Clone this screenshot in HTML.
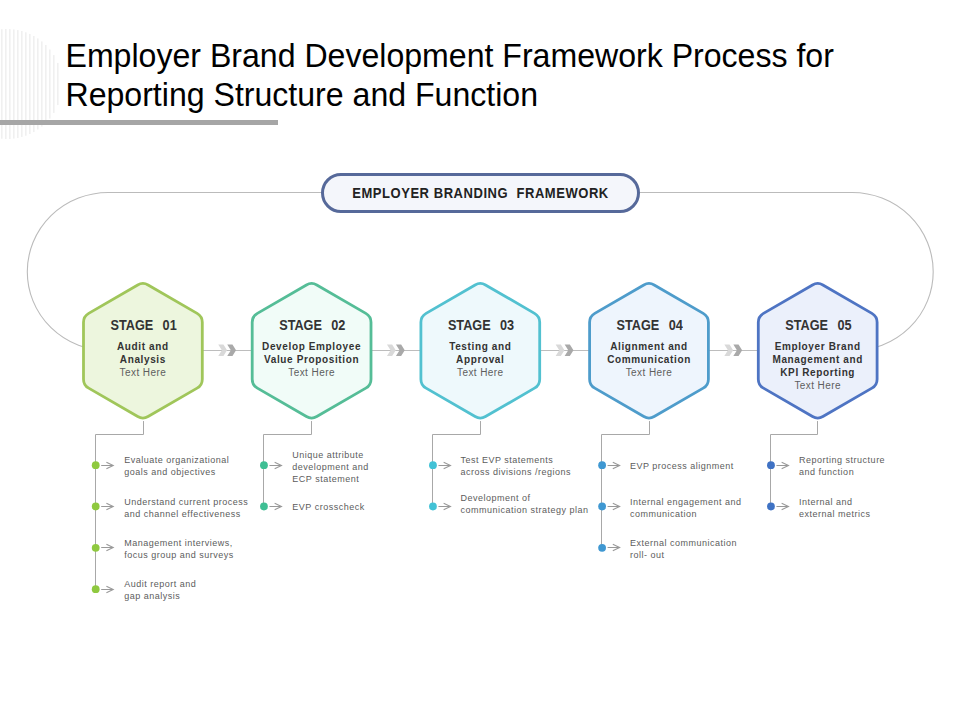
<!DOCTYPE html>
<html><head><meta charset="utf-8"><style>
html,body{margin:0;padding:0;background:#fff;}
body{width:960px;height:720px;position:relative;overflow:hidden;font-family:"Liberation Sans",sans-serif;}
svg{position:absolute;left:0;top:0;}
.title{position:absolute;left:65.5px;font-size:32.1px;line-height:39px;transform:scaleY(1.06);transform-origin:0 30px;color:#000;white-space:nowrap;}
.bar{position:absolute;left:0;top:120px;width:278px;height:4.5px;background:#a6a6a6;}
.pill{position:absolute;left:321px;top:173px;width:313px;height:34px;border:3px solid #56699a;border-radius:20px;background:#f4f6fb;box-sizing:content-box;}
.pillt{position:absolute;left:321px;top:185.6px;width:319px;text-align:center;font-size:13px;font-weight:bold;color:#222;white-space:pre;letter-spacing:0.55px;transform:scaleY(1.07);transform-origin:50% 12px;}
.st{position:absolute;width:120px;text-align:center;font-size:12.7px;font-weight:bold;color:#333;white-space:nowrap;line-height:15px;transform:scaleY(1.12);transform-origin:50% 11.5px;}
.sb{position:absolute;width:120px;text-align:center;font-size:10px;font-weight:bold;color:#333;line-height:13px;letter-spacing:0.63px;white-space:nowrap;}
.th{font-weight:normal;color:#5e5e5e;letter-spacing:0.42px;}
.bt{position:absolute;font-size:9px;line-height:12px;color:#5c5c5c;letter-spacing:0.5px;white-space:nowrap;}
</style></head><body>
<svg width="960" height="720" viewBox="0 0 960 720"><rect x="1" y="29.2" width="1.6" height="109.5" fill="#f0f0f0"/><rect x="5" y="29.0" width="1.6" height="110.0" fill="#f0f0f0"/><rect x="9" y="29.1" width="1.6" height="109.9" fill="#f0f0f0"/><rect x="13" y="29.4" width="1.6" height="109.2" fill="#f0f0f0"/><rect x="17" y="30.1" width="1.6" height="107.9" fill="#f0f0f0"/><rect x="21" y="31.0" width="1.6" height="105.9" fill="#f0f0f0"/><rect x="25" y="32.3" width="1.6" height="103.4" fill="#f0f0f0"/><rect x="29" y="33.9" width="1.6" height="100.1" fill="#f0f0f0"/><rect x="33" y="36.0" width="1.6" height="96.1" fill="#f0f0f0"/><rect x="37" y="38.4" width="1.6" height="91.1" fill="#f0f0f0"/><rect x="41" y="41.4" width="1.6" height="85.2" fill="#f0f0f0"/><rect x="45" y="45.0" width="1.6" height="78.0" fill="#f0f0f0"/><rect x="49" y="49.5" width="1.6" height="69.1" fill="#f0f0f0"/><rect x="53" y="55.1" width="1.6" height="57.8" fill="#f0f0f0"/><rect x="57" y="62.9" width="1.6" height="42.2" fill="#f0f0f0"/><path d="M108.3,350.9 A81,79.2 0 0 1 108.3,192.5 L852.2,192.5 A81,79.2 0 0 1 852.2,350.9" fill="none" stroke="#bbbbbb" stroke-width="1.1"/><line x1="142.9" y1="350.5" x2="817.7" y2="350.5" stroke="#bdbdbd" stroke-width="1"/><path d="M137.71,284.96 Q142.90,281.95 148.09,284.96 L197.11,313.34 Q202.30,316.35 202.30,322.35 L202.30,379.15 Q202.30,385.15 197.11,388.16 L148.09,416.54 Q142.90,419.55 137.71,416.54 L88.69,388.16 Q83.50,385.15 83.50,379.15 L83.50,322.35 Q83.50,316.35 88.69,313.34 Z" fill="#edf6de" stroke="#a0c65a" stroke-width="2.8"/><path d="M306.41,284.96 Q311.60,281.95 316.79,284.96 L365.81,313.34 Q371.00,316.35 371.00,322.35 L371.00,379.15 Q371.00,385.15 365.81,388.16 L316.79,416.54 Q311.60,419.55 306.41,416.54 L257.39,388.16 Q252.20,385.15 252.20,379.15 L252.20,322.35 Q252.20,316.35 257.39,313.34 Z" fill="#f1fcf8" stroke="#55bd97" stroke-width="2.8"/><path d="M475.11,284.96 Q480.30,281.95 485.49,284.96 L534.51,313.34 Q539.70,316.35 539.70,322.35 L539.70,379.15 Q539.70,385.15 534.51,388.16 L485.49,416.54 Q480.30,419.55 475.11,416.54 L426.09,388.16 Q420.90,385.15 420.90,379.15 L420.90,322.35 Q420.90,316.35 426.09,313.34 Z" fill="#eef9fc" stroke="#52c1d0" stroke-width="2.8"/><path d="M643.81,284.96 Q649.00,281.95 654.19,284.96 L703.21,313.34 Q708.40,316.35 708.40,322.35 L708.40,379.15 Q708.40,385.15 703.21,388.16 L654.19,416.54 Q649.00,419.55 643.81,416.54 L594.79,388.16 Q589.60,385.15 589.60,379.15 L589.60,322.35 Q589.60,316.35 594.79,313.34 Z" fill="#eef5fd" stroke="#4e9ccb" stroke-width="2.8"/><path d="M812.51,284.96 Q817.70,281.95 822.89,284.96 L871.91,313.34 Q877.10,316.35 877.10,322.35 L877.10,379.15 Q877.10,385.15 871.91,388.16 L822.89,416.54 Q817.70,419.55 812.51,416.54 L763.49,388.16 Q758.30,385.15 758.30,379.15 L758.30,322.35 Q758.30,316.35 763.49,313.34 Z" fill="#ebf0fb" stroke="#4e74c3" stroke-width="2.8"/><path d="M218.25,344.4 L223.45,344.4 L227.05,350.2 L223.45,356.0 L218.25,356.0 L221.85,350.2 Z" fill="#d9d9d9"/><path d="M227.25,344.4 L232.45,344.4 L236.05,350.2 L232.45,356.0 L227.25,356.0 L230.85,350.2 Z" fill="#a9a9a9"/><path d="M386.95000000000005,344.4 L392.15000000000003,344.4 L395.75000000000006,350.2 L392.15000000000003,356.0 L386.95000000000005,356.0 L390.55000000000007,350.2 Z" fill="#d9d9d9"/><path d="M395.95000000000005,344.4 L401.15000000000003,344.4 L404.75000000000006,350.2 L401.15000000000003,356.0 L395.95000000000005,356.0 L399.55000000000007,350.2 Z" fill="#a9a9a9"/><path d="M555.65,344.4 L560.85,344.4 L564.4499999999999,350.2 L560.85,356.0 L555.65,356.0 L559.25,350.2 Z" fill="#d9d9d9"/><path d="M564.65,344.4 L569.85,344.4 L573.4499999999999,350.2 L569.85,356.0 L564.65,356.0 L568.25,350.2 Z" fill="#a9a9a9"/><path d="M724.35,344.4 L729.5500000000001,344.4 L733.15,350.2 L729.5500000000001,356.0 L724.35,356.0 L727.95,350.2 Z" fill="#d9d9d9"/><path d="M733.35,344.4 L738.5500000000001,344.4 L742.15,350.2 L738.5500000000001,356.0 L733.35,356.0 L736.95,350.2 Z" fill="#a9a9a9"/><path d="M143.50,421.05 L143.50,434.5 L95.50,434.5 L95.50,589.20" fill="none" stroke="#a8a8a8" stroke-width="1"/><circle cx="95.70" cy="465.15" r="3.9" fill="#8fc93f"/><path d="M101.20,465.50 L113.20,465.50 M106.40,462.30 L113.20,465.50 L106.40,468.70" fill="none" stroke="#999999" stroke-width="1.1"/><circle cx="95.70" cy="506.50" r="3.9" fill="#8fc93f"/><path d="M101.20,506.50 L113.20,506.50 M106.40,503.30 L113.20,506.50 L106.40,509.70" fill="none" stroke="#999999" stroke-width="1.1"/><circle cx="95.70" cy="547.85" r="3.9" fill="#8fc93f"/><path d="M101.20,547.50 L113.20,547.50 M106.40,544.30 L113.20,547.50 L106.40,550.70" fill="none" stroke="#999999" stroke-width="1.1"/><circle cx="95.70" cy="589.20" r="3.9" fill="#8fc93f"/><path d="M101.20,589.50 L113.20,589.50 M106.40,586.30 L113.20,589.50 L106.40,592.70" fill="none" stroke="#999999" stroke-width="1.1"/><path d="M311.50,421.05 L311.50,434.5 L263.50,434.5 L263.50,506.50" fill="none" stroke="#a8a8a8" stroke-width="1"/><circle cx="263.95" cy="465.15" r="3.9" fill="#3fbf94"/><path d="M269.45,465.50 L281.45,465.50 M274.65,462.30 L281.45,465.50 L274.65,468.70" fill="none" stroke="#999999" stroke-width="1.1"/><circle cx="263.95" cy="506.50" r="3.9" fill="#3fbf94"/><path d="M269.45,506.50 L281.45,506.50 M274.65,503.30 L281.45,506.50 L274.65,509.70" fill="none" stroke="#999999" stroke-width="1.1"/><path d="M480.50,421.05 L480.50,434.5 L432.50,434.5 L432.50,506.50" fill="none" stroke="#a8a8a8" stroke-width="1"/><circle cx="432.95" cy="465.15" r="3.9" fill="#42c2d6"/><path d="M438.45,465.50 L450.45,465.50 M443.65,462.30 L450.45,465.50 L443.65,468.70" fill="none" stroke="#999999" stroke-width="1.1"/><circle cx="432.95" cy="506.50" r="3.9" fill="#42c2d6"/><path d="M438.45,506.50 L450.45,506.50 M443.65,503.30 L450.45,506.50 L443.65,509.70" fill="none" stroke="#999999" stroke-width="1.1"/><path d="M649.50,421.05 L649.50,434.5 L601.50,434.5 L601.50,547.85" fill="none" stroke="#a8a8a8" stroke-width="1"/><circle cx="602.10" cy="465.15" r="3.9" fill="#3f98d2"/><path d="M607.60,465.50 L619.60,465.50 M612.80,462.30 L619.60,465.50 L612.80,468.70" fill="none" stroke="#999999" stroke-width="1.1"/><circle cx="602.10" cy="506.50" r="3.9" fill="#3f98d2"/><path d="M607.60,506.50 L619.60,506.50 M612.80,503.30 L619.60,506.50 L612.80,509.70" fill="none" stroke="#999999" stroke-width="1.1"/><circle cx="602.10" cy="547.85" r="3.9" fill="#3f98d2"/><path d="M607.60,547.50 L619.60,547.50 M612.80,544.30 L619.60,547.50 L612.80,550.70" fill="none" stroke="#999999" stroke-width="1.1"/><path d="M817.50,421.05 L817.50,434.5 L770.50,434.5 L770.50,506.50" fill="none" stroke="#a8a8a8" stroke-width="1"/><circle cx="770.95" cy="465.15" r="3.9" fill="#3f72c4"/><path d="M776.45,465.50 L788.45,465.50 M781.65,462.30 L788.45,465.50 L781.65,468.70" fill="none" stroke="#999999" stroke-width="1.1"/><circle cx="770.95" cy="506.50" r="3.9" fill="#3f72c4"/><path d="M776.45,506.50 L788.45,506.50 M781.65,503.30 L788.45,506.50 L781.65,509.70" fill="none" stroke="#999999" stroke-width="1.1"/></svg>
<div class="title" style="top:36.9px">Employer Brand Development Framework Process for</div><div class="title" style="top:75.6px">Reporting Structure and Function</div>
<div class="bar"></div>
<div class="pill"></div>
<div class="pillt">EMPLOYER BRANDING  FRAMEWORK</div>
<div class="bt" style="left:124.30px;top:454.15px">Evaluate organizational<br>goals and objectives</div><div class="bt" style="left:124.30px;top:495.50px">Understand current process<br>and channel effectiveness</div><div class="bt" style="left:124.30px;top:536.85px">Management interviews,<br>focus group and surveys</div><div class="bt" style="left:124.30px;top:578.20px">Audit report and<br>gap analysis</div><div class="bt" style="left:292.30px;top:448.85px">Unique attribute<br>development and<br>ECP statement</div><div class="bt" style="left:292.30px;top:501.20px">EVP crosscheck</div><div class="bt" style="left:460.40px;top:454.15px">Test EVP statements<br>across divisions /regions</div><div class="bt" style="left:460.40px;top:492.20px">Development of<br>communication strategy plan</div><div class="bt" style="left:629.90px;top:459.85px">EVP process alignment</div><div class="bt" style="left:629.90px;top:495.50px">Internal engagement and<br>communication</div><div class="bt" style="left:629.90px;top:536.85px">External communication<br>roll- out</div><div class="bt" style="left:799.10px;top:454.15px">Reporting structure<br>and function</div><div class="bt" style="left:799.10px;top:495.50px">Internal and<br>external metrics</div><div class="st" style="left:83.60px;top:318.9px">STAGE&nbsp;&nbsp;<span style="margin-left:2.3px"></span>01</div><div class="sb" style="left:82.90px;top:339.9px">Audit and<br>Analysis<br><span class="th">Text Here</span></div><div class="st" style="left:252.30px;top:318.9px">STAGE&nbsp;&nbsp;<span style="margin-left:2.3px"></span>02</div><div class="sb" style="left:251.60px;top:339.9px">Develop Employee<br>Value Proposition<br><span class="th">Text Here</span></div><div class="st" style="left:421.00px;top:318.9px">STAGE&nbsp;&nbsp;<span style="margin-left:2.3px"></span>03</div><div class="sb" style="left:420.30px;top:339.9px">Testing and<br>Approval<br><span class="th">Text Here</span></div><div class="st" style="left:589.70px;top:318.9px">STAGE&nbsp;&nbsp;<span style="margin-left:2.3px"></span>04</div><div class="sb" style="left:589.00px;top:339.9px">Alignment and<br>Communication<br><span class="th">Text Here</span></div><div class="st" style="left:758.40px;top:318.9px">STAGE&nbsp;&nbsp;<span style="margin-left:2.3px"></span>05</div><div class="sb" style="left:757.70px;top:339.9px">Employer Brand<br>Management and<br>KPI Reporting<br><span class="th">Text Here</span></div>
</body></html>
